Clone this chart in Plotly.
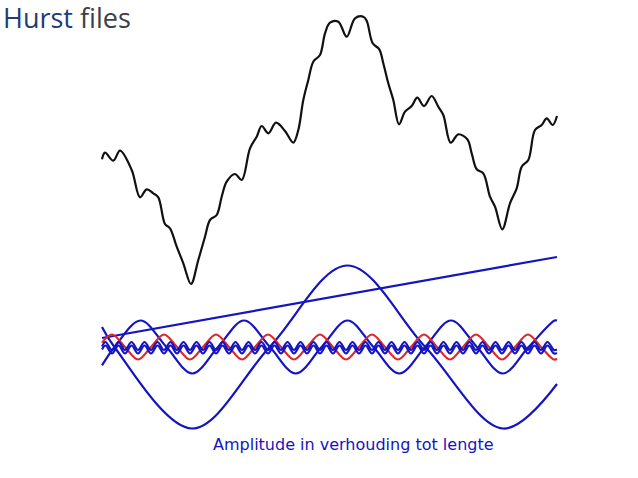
import plotly.graph_objects as go

# time axis runs 0..455, amplitude is up-positive around the cycle centre line

# trend (the longest cycle, only its rising part is visible)
trend_x = [0, 455]
trend_y = [9, 90]

# long cycle: start, zero crossings and extremes
long_x = [0, 12.4, 90, 167.7, 245.5, 323.3, 401, 455]
long_y = [20, 0, -81.5, 0, 81.5, 0, -81.5, -37]

# medium cycle
mid_x = [0, 12.6, 38.5, 64.4, 90.25, 116.1, 142, 167.9, 193.75, 219.6, 245.5,
         271.4, 297.25, 323.1, 349, 374.9, 400.75, 426.6, 452.5, 455]
mid_y = [-18.4, 0, 26.5, 0, -26.5, 0, 26.5, 0, -26.5, 0, 26.5,
         0, -26.5, 0, 26.5, 0, -26.5, 0, 26.5, 26.4]

# red cycle
red_x = [0, 10, 23, 36, 49, 62, 75, 88, 101, 114, 127, 140, 153, 166, 179, 192,
         205, 218, 231, 244, 257, 270, 283, 296, 309, 322, 335, 348, 361, 374,
         387, 400, 413, 426, 439, 452, 455]
red_y = [4.4, 12.5, 0, -12.5, 0, 12.5, 0, -12.5, 0, 12.5, 0, -12.5, 0, 12.5, 0, -12.5,
         0, 12.5, 0, -12.5, 0, 12.5, 0, -12.5, 0, 12.5, 0, -12.5, 0, 12.5,
         0, -12.5, 0, 12.5, 0, -12.5, -11.7]

# two short cycles, peaks and troughs
short_x = [0, 3.5, 10, 16.5, 23, 29.5, 36, 42.5, 49, 55.5, 62, 68.5, 75, 81.5, 88,
           94.5, 101, 107.5, 114, 120.5, 127, 133.5, 140, 146.5, 153, 159.5, 166,
           172.5, 179, 185.5, 192, 198.5, 205, 211.5, 218, 224.5, 231, 237.5, 244,
           250.5, 257, 263.5, 270, 276.5, 283, 289.5, 296, 302.5, 309, 315.5, 322,
           328.5, 335, 341.5, 348, 354.5, 361, 367.5, 374, 380.5, 387, 393.5, 400,
           406.5, 413, 419.5, 426, 432.5, 439, 445.5, 452, 455]
short_a = [0.5, 5, -3, 5, -3, 5, -3, 5, -3, 5, -3, 5, -3, 5, -3,
           5, -3, 5, -3, 5, -3, 5, -3, 5, -3, 5, -3,
           5, -3, 5, -3, 5, -3, 5, -3, 5, -3, 5, -3,
           5, -3, 5, -3, 5, -3, 5, -3, 5, -3, 5, -3,
           5, -3, 5, -3, 5, -3, 5, -3, 5, -3, 5, -3,
           5, -3, 5, -3, 5, -3, 5, -3, -2.5]
short_b = [-2.5, 1.5, -6.5, 1.5, -6.5, 1.5, -6.5, 1.5, -6.5, 1.5, -6.5, 1.5, -6.5, 1.5, -6.5,
           1.5, -6.5, 1.5, -6.5, 1.5, -6.5, 1.5, -6.5, 1.5, -6.5, 1.5, -6.5,
           1.5, -6.5, 1.5, -6.5, 1.5, -6.5, 1.5, -6.5, 1.5, -6.5, 1.5, -6.5,
           1.5, -6.5, 1.5, -6.5, 1.5, -6.5, 1.5, -6.5, 1.5, -6.5, 1.5, -6.5,
           1.5, -6.5, 1.5, -6.5, 1.5, -6.5, 1.5, -6.5, 1.5, -6.5, 1.5, -6.5,
           1.5, -6.5, 1.5, -6.5, 1.5, -6.5, 1.5, -6.5, -6]

# composite (price-like) line
comp_x = [0, 3, 11.3, 18, 29.7, 38, 44.7, 51.3, 56.3, 63, 68, 74.7, 81.3, 89, 96.3,
          103, 108, 114.7, 119.7, 124.7, 133, 139.7, 148, 154.7, 159.7, 166.3, 174,
          183, 191.3, 196.3, 201.3, 206.3, 211.3, 218, 223, 228, 236.3, 244.7, 253,
          261.3, 264.7, 270.7, 277.3, 281.3, 286.3, 291.3, 297, 303, 309.7, 315.3,
          322, 329.7, 336.3, 341.3, 348.7, 356.3, 365.3, 369.7, 374.7, 381.3, 388,
          393, 400.3, 408, 414.7, 419.7, 426.3, 433, 439.7, 444.7, 450.7, 455]
comp_y = [187.7, 194.3, 186.3, 196.3, 177, 149.7, 157.7, 153.7, 149.7, 123, 118.7,
          100.3, 83.7, 63, 87, 110.3, 127, 132, 150.3, 165.3, 173, 167, 198.7,
          210.3, 221, 213.7, 224.3, 216, 204.3, 217, 247, 267, 285.3, 292, 313.7,
          324.3, 325.3, 310.3, 328.7, 330.3, 326.3, 303.7, 297.7, 283.7, 263.7, 247,
          222.7, 235.3, 241, 249.3, 241, 251, 240.3, 232, 204.3, 212.7, 207.7, 193.7,
          177.7, 173.7, 150.3, 140.3, 117.7, 143.7, 158.7, 180.3, 187, 217, 222,
          228.7, 222, 231]

BLUE = "#1414c0"
RED = "#e0262a"

fig = go.Figure()

def add(x, y, color):
    fig.add_trace(go.Scatter(x=x, y=y, mode="lines",
                             line=dict(color=color, width=2.2, shape="spline", smoothing=1),
                             hoverinfo="skip"))

add(trend_x, trend_y, BLUE)
add(long_x, long_y, BLUE)
add(mid_x, mid_y, BLUE)
add(red_x, red_y, RED)
add(short_x, short_a, BLUE)
add(short_x, short_b, BLUE)
add(comp_x, comp_y, "#111111")

fig.add_annotation(x=0, y=1, xref="paper", yref="paper", xanchor="left", yanchor="top",
                   xshift=1, yshift=3, showarrow=False,
                   text="<span style='color:#1e3c78'>Hurst</span> <span style='color:#3b4048'>files</span>",
                   font=dict(family="Open Sans", size=27, weight=500))

fig.add_annotation(x=251.5, y=-97, showarrow=False,
                   text="Amplitude in verhouding tot lengte",
                   font=dict(family="DejaVu Sans", size=16, color=BLUE))

fig.update_layout(
    width=638, height=478,
    margin=dict(l=0, r=0, t=0, b=0),
    paper_bgcolor="white", plot_bgcolor="white",
    showlegend=False,
    xaxis=dict(range=[-102, 536], visible=False, fixedrange=True),
    yaxis=dict(range=[-131, 347], visible=False, fixedrange=True),
)

fig.write_html("out.html", config={"displayModeBar": False},
               post_script="document.body.style.margin='0px';")
